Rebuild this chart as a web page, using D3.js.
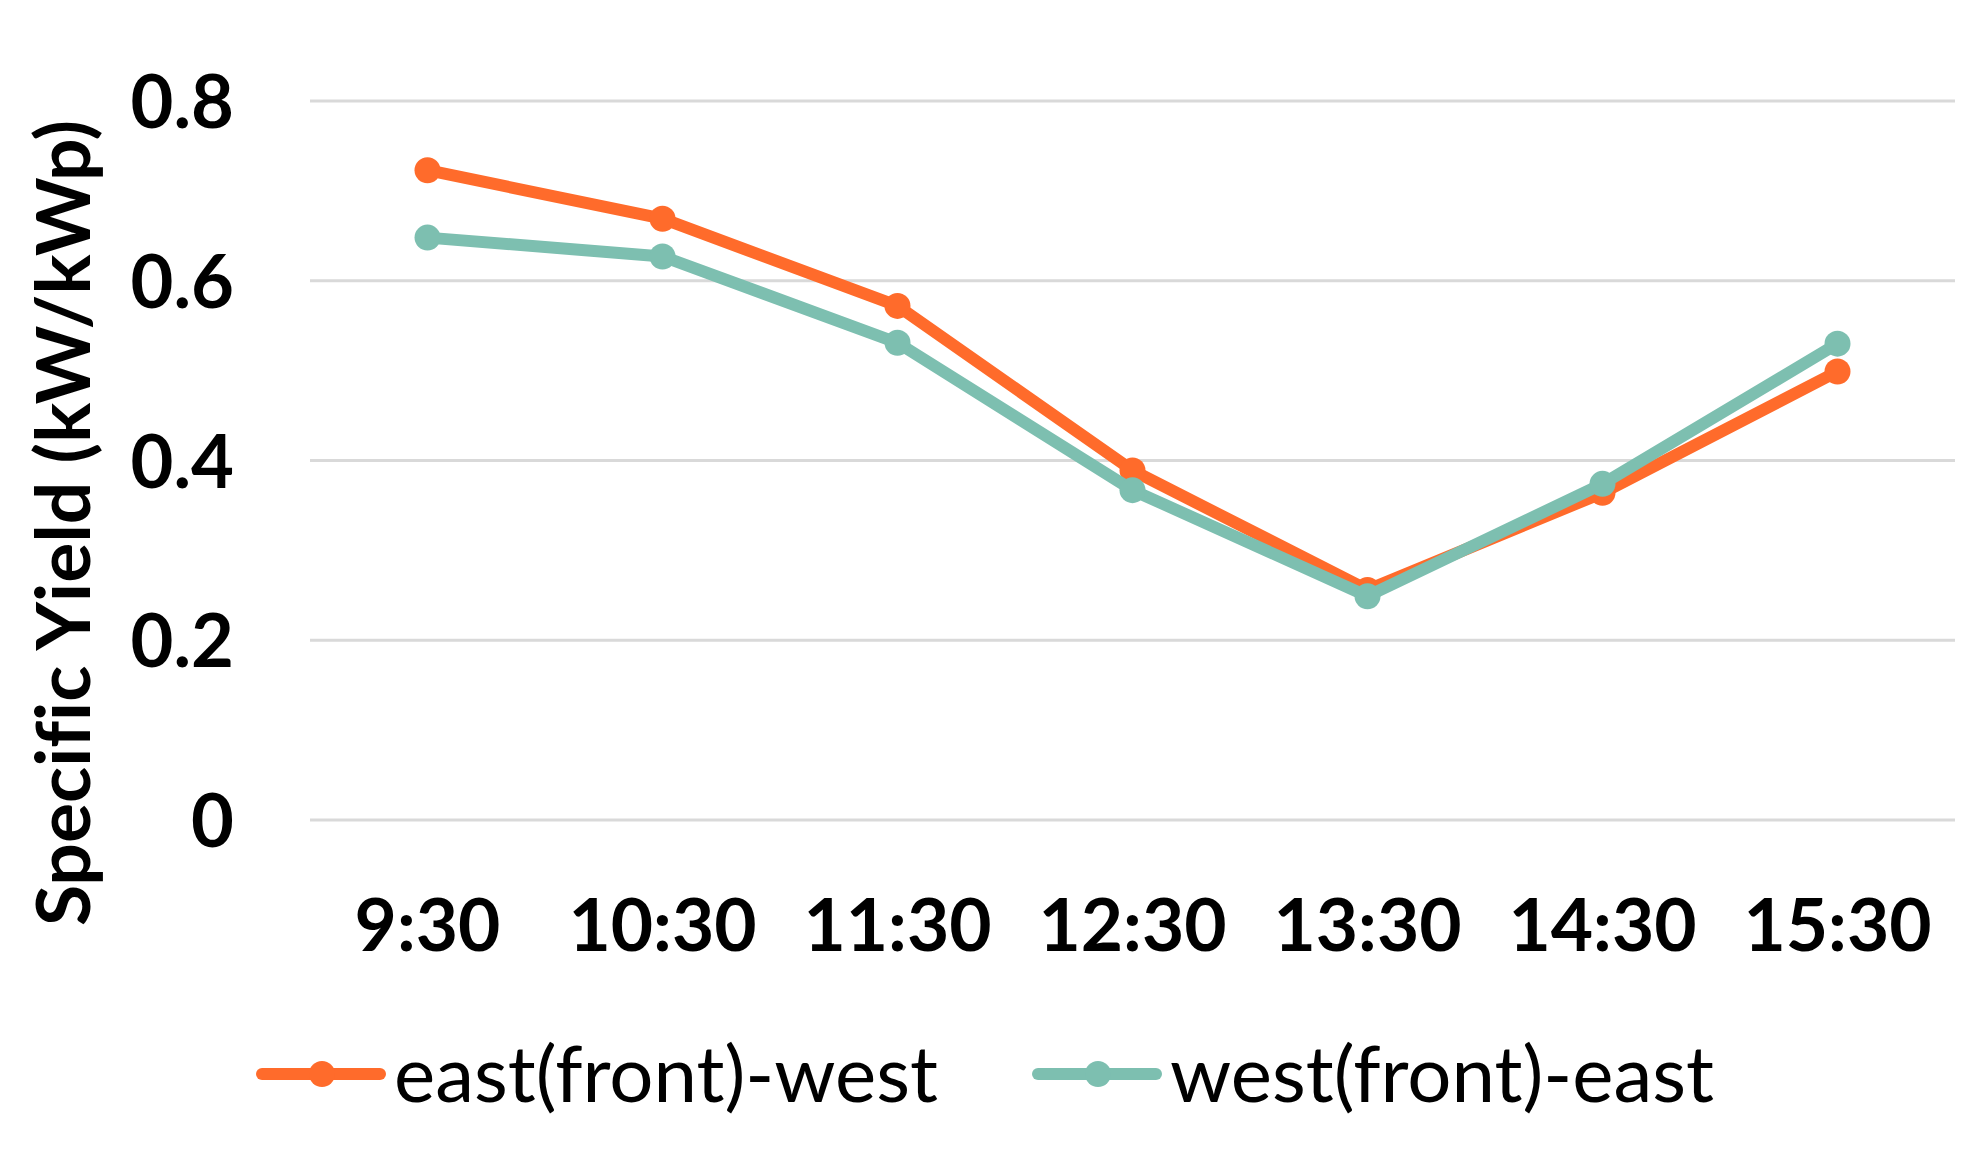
<!DOCTYPE html>
<html>
<head>
<meta charset="utf-8">
<script src="https://cdn.jsdelivr.net/npm/d3@7"></script>
<style>
  body { margin: 0; background: #fff; }
  svg text { font-family: Lato, "Open Sans", sans-serif; fill: #000; font-variant-ligatures: none; }
  .grid line { stroke: #d9d9d9; stroke-width: 3; }
</style>
</head>
<body>
<svg id="chart" width="1981" height="1162"></svg>
<script>
"use strict";

var times = ["9:30", "10:30", "11:30", "12:30", "13:30", "14:30", "15:30"];
var eastWest = [0.723, 0.669, 0.572, 0.389, 0.256, 0.364, 0.499];
var westEast = [0.648, 0.627, 0.531, 0.367, 0.249, 0.374, 0.530];
var yTicks = [0, 0.2, 0.4, 0.6, 0.8];

var series = [
    { name: "east(front)-west", values: eastWest, color: "#ff6b2b" },
    { name: "west(front)-east", values: westEast, color: "#7dbfb0" }
];

var svg = d3.select("#chart");
var plot = { left: 310, right: 1955, top: 101, bottom: 820 };

var x = d3.scaleBand().domain(times).range([plot.left, plot.right]);
var y = d3.scaleLinear().domain([0, 0.8]).range([plot.bottom, plot.top]);

// gridlines
svg.append("g").attr("class", "grid")
    .selectAll("line").data(yTicks).join("line")
    .attr("x1", plot.left).attr("x2", plot.right)
    .attr("y1", function(d){ return y(d); })
    .attr("y2", function(d){ return y(d); });

// y axis labels
var yAxis = d3.axisLeft(y).tickValues(yTicks)
    .tickFormat(function(d){ return d === 0 ? "0" : d3.format(".1f")(d); })
    .tickSize(0).tickPadding(0);
svg.append("g").attr("transform", "translate(234,0)").call(yAxis)
    .call(function(g){ g.select(".domain").remove(); })
    .selectAll("text")
    .attr("dy", "0.36em")
    .style("font-size", "74px").style("font-weight", "bold")
    .style("font-family", "Lato, sans-serif");

// x axis labels
var xAxis = d3.axisBottom(x).tickSize(0).tickPadding(0);
svg.append("g").attr("transform", "translate(0,925)").call(xAxis)
    .call(function(g){ g.select(".domain").remove(); })
    .selectAll("text")
    .attr("dy", "0.36em")
    .style("font-size", "73px").style("font-weight", "bold")
    .style("font-family", "Lato, sans-serif");

// y axis title
svg.append("text")
    .attr("transform", "translate(90,523) rotate(-90)")
    .attr("text-anchor", "middle")
    .style("font-size", "75px").style("font-weight", "bold")
    .text("Specific Yield (kW/kWp)");

// lines and markers
var line = d3.line()
    .x(function(d, i){ return x(times[i]) + x.bandwidth() / 2; })
    .y(function(d){ return y(d); });

series.forEach(function(s){
    svg.append("path")
        .datum(s.values)
        .attr("d", line)
        .attr("fill", "none")
        .attr("stroke", s.color)
        .attr("stroke-width", 12)
        .attr("stroke-linejoin", "round");
    svg.append("g").selectAll("circle").data(s.values).join("circle")
        .attr("cx", function(d, i){ return x(times[i]) + x.bandwidth() / 2; })
        .attr("cy", function(d){ return y(d); })
        .attr("r", 13)
        .attr("fill", s.color);
});

// legend
var legendX = [262, 1038];
var legend = svg.append("g").selectAll("g").data(series).join("g")
    .attr("transform", function(d, i){ return "translate(" + legendX[i] + ",1074)"; });
legend.append("line")
    .attr("x1", 0).attr("x2", 118)
    .attr("stroke", function(d){ return d.color; })
    .attr("stroke-width", 12)
    .attr("stroke-linecap", "round");
legend.append("circle")
    .attr("cx", 60).attr("r", 13)
    .attr("fill", function(d){ return d.color; });
legend.append("text")
    .attr("x", 132).attr("dy", "0.36em")
    .style("font-size", "78px")
    .text(function(d){ return d.name; });
</script>
</body>
</html>
